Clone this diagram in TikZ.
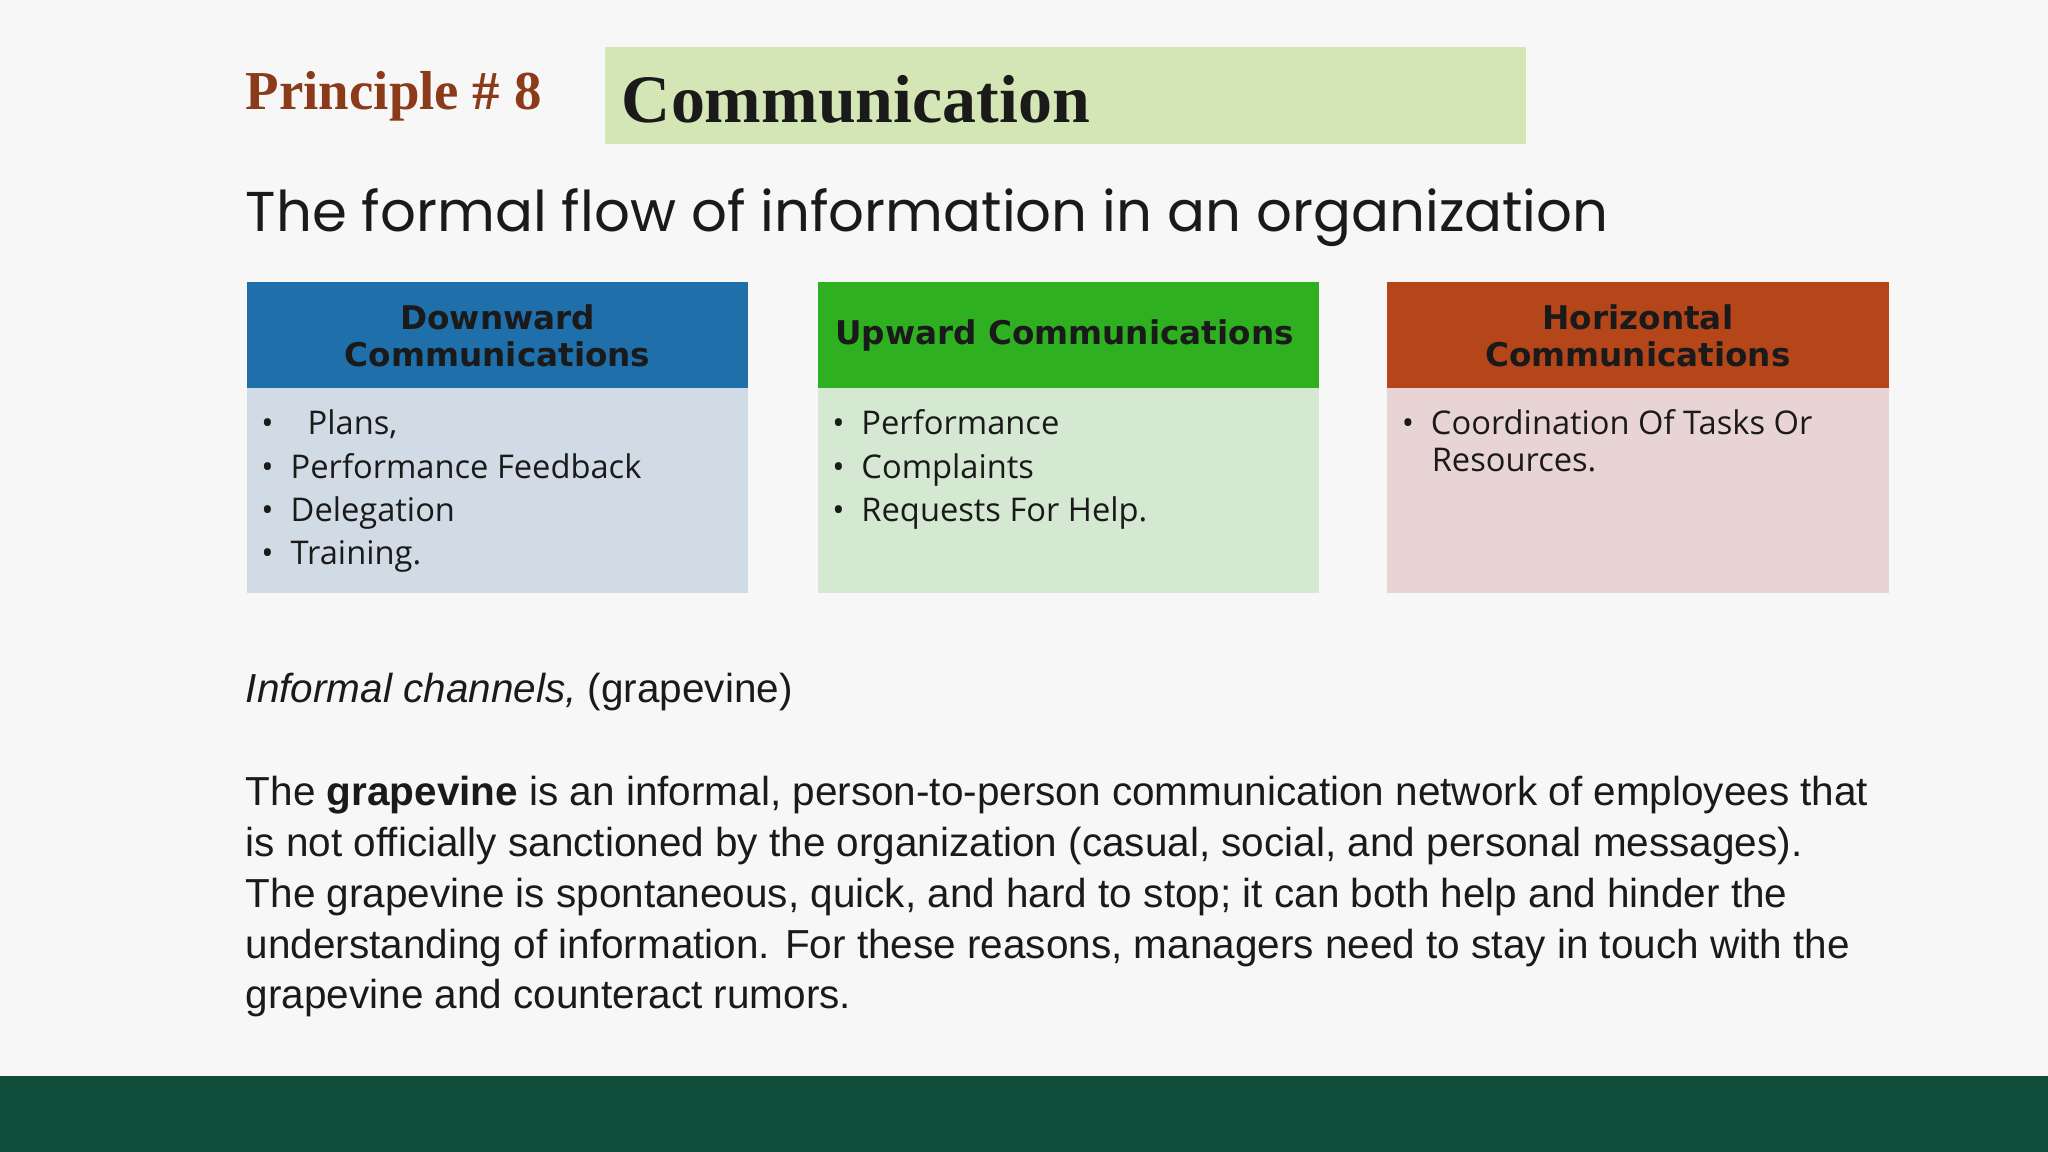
\documentclass[tikz,border=0pt]{standalone}
\usepackage{fontspec}
\setmainfont{Liberation Sans}
\newfontfamily\serifb{Liberation Serif}
\newfontfamily\gothic{Poppins}
\newfontfamily\hdr{DejaVu Sans}
\newfontfamily\blt{Open Sans}
\definecolor{bg}{HTML}{F8F7F8}
\definecolor{band}{HTML}{0F4C3A}
\definecolor{ttl}{HTML}{D4E6B5}
\definecolor{brn}{HTML}{8B3A1A}
\definecolor{bh}{HTML}{1F6FAA}\definecolor{bb}{HTML}{D1DBE5}
\definecolor{gh}{HTML}{2FB020}\definecolor{gb}{HTML}{D4E8D2}
\definecolor{oh}{HTML}{B5461A}\definecolor{ob}{HTML}{E8D4D4}
\definecolor{txt}{HTML}{1A1A1A}
\tikzset{
 lbl/.style={anchor=base west,inner sep=0pt,text=txt},
 head/.style={inner sep=0pt,align=center,text=txt,font=\hdr\bfseries\fontsize{25}{28}\selectfont},
 bul/.style={lbl,font=\blt\fontsize{25}{28}\selectfont},
 par/.style={lbl,font=\fontsize{31}{36}\selectfont},
}
\begin{document}
\begin{tikzpicture}[x=1pt,y=-1pt]
\fill[bg] (0,0) rectangle (1568,882);
\useasboundingbox (0,0) rectangle (1568,882);
\fill[band] (0,824) rectangle (1568,882);
\fill[ttl] (463,36) rectangle (1168,110);
\node[lbl,text=brn,font=\serifb\bfseries\fontsize{42}{46}\selectfont] (p8) at (188,84) {Principle \# 8};
\node[lbl,font=\serifb\bfseries\fontsize{52}{56}\selectfont] (comm) at (476,94) {Communication};
\node[lbl,font=\gothic\fontsize{43}{48}\selectfont] (sub) at (188,177) {The formal flow of information in an organization};
% boxes
\fill[bh] (189,216) rectangle (573,297); \fill[bb] (189,297) rectangle (573,454);
\fill[gh] (626,216) rectangle (1010,297); \fill[gb] (626,297) rectangle (1010,454);
\fill[oh] (1062,216) rectangle (1446,297); \fill[ob] (1062,297) rectangle (1446,454);
\node[head] (h1) at (381,257) {Downward\\Communications};
\node[head] (h2) at (815,257) {Upward Communications};
\node[head] (h3) at (1254,257) {Horizontal\\Communications};
\foreach \t [count=\i] in {{\ \ Plans,},Performance Feedback,Delegation,Training.}
  \node[bul] (a\i) at (200,{300+33*\i}) {\textbullet\ \ \t};
\foreach \t [count=\i] in {Performance,Complaints,Requests For Help.}
  \node[bul] (b\i) at (637,{300+33*\i}) {\textbullet\ \ \t};
\node[bul] (c1) at (1073,333) {\textbullet\ \ Coordination Of Tasks Or};
\node[bul] (c2) at (1096,361) {Resources.};
\node[lbl,font=\fontsize{31}{36}\selectfont] (inf) at (188,538) {\textit{Informal channels,} (grapevine)};
\node[par] (l1) at (188,617) {The \textbf{grapevine} is an informal, person-to-person communication network of employees that};
\node[par] (l2) at (188,656) {is not officially sanctioned by the organization (casual, social, and personal messages).};
\node[par] (l3) at (188,695) {The grapevine is spontaneous, quick, and hard to stop; it can both help and hinder the};
\node[par] (l4) at (188,734) {understanding of information. For these reasons, managers need to stay in touch with the};
\node[par] (l5) at (188,772) {grapevine and counteract rumors.};
\end{tikzpicture}
\end{document}
